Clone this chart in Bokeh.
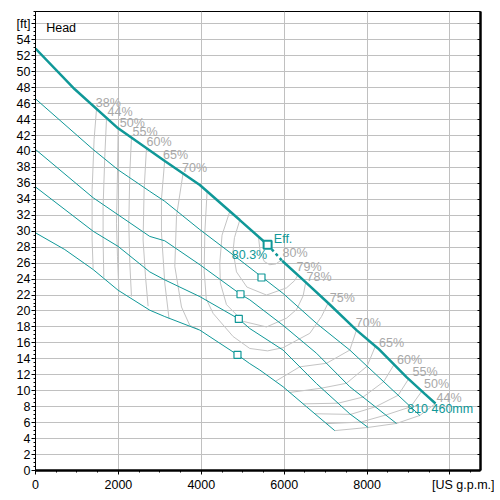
import numpy as np
from bokeh.plotting import figure
from bokeh.models import Range1d, FixedTicker, LinearAxis, Label, ColumnDataSource
from bokeh.embed import file_html
from bokeh.resources import INLINE
from bokeh.core.properties import value

# ---------------- data ----------------
main_q = [0, 948, 1993, 3119, 3965, 4929, 5600, 5950, 6457, 7060, 7744, 8266, 8951, 9392, 9650]
main_h = [52.9, 47.8, 42.9, 38.8, 35.8, 31.4, 28.3, 26.3, 23.9, 21.0, 17.6, 15.3, 11.7, 9.6, 8.4]

c1_q = [0, 1390, 1993, 2757, 3119, 3965, 4929, 5452, 5973, 6779, 7583, 9272]
c1_h = [46.6, 40.25, 37.7, 35.0, 33.75, 30.2, 26.4, 24.3, 22.2, 18.45, 15.1, 6.9]

c2_q = [0, 1390, 2757, 3119, 3965, 4946, 5170, 5973, 6779, 7583, 8709]
c2_h = [40.25, 34.2, 29.35, 28.8, 25.8, 22.1, 21.4, 18.2, 14.7, 10.5, 5.9]

c3_q = [0, 1390, 1993, 2757, 3119, 3965, 4905, 5170, 5973, 6779, 7583, 8024]
c3_h = [35.55, 30.0, 28.1, 24.9, 23.9, 21.8, 19.0, 17.8, 15.1, 10.9, 7.1, 5.4]

c4_q = [0, 707, 1390, 1993, 2757, 3119, 3965, 4873, 5170, 5411, 5973, 6537, 7220]
c4_h = [29.8, 27.7, 25.2, 22.6, 20.1, 19.3, 17.6, 14.5, 13.4, 12.6, 10.5, 8.0, 5.0]

bep_q = [5600, 5452, 4946, 4905, 4873]
bep_h = [28.3, 24.2, 22.1, 19.0, 14.5]

# efficiency iso-lines, left branches (low flow side)
left_levels = ["38%", "44%", "50%", "55%", "60%", "65%", "70%"]
left_q = [
    [1472, 1414, 1366, 1366, 1390],
    [1713, 1672, 1631, 1631, 1648],
    [1993, 1978, 1954, 1978, 2010],
    [2316, 2275, 2251, 2275, 2316],
    [2678, 2620, 2596, 2654, 2717],
    [3119, 3039, 3039, 3119, 3223],
    [3561, 3402, 3361, 3522, 3722, 3930],
]
left_h = [
    [45.3, 41.5, 35.2, 28.9, 25.3],
    [44.1, 39.4, 33.1, 28.9, 24.2],
    [42.9, 37.3, 31.0, 26.8, 22.6],
    [41.8, 37.3, 31.0, 26.0, 21.8],
    [40.5, 35.2, 28.9, 24.3, 20.6],
    [39.0, 34.0, 29.8, 23.5, 19.0],
    [37.3, 31.9, 25.6, 20.5, 18.2, 17.7],
]

# right branches: flow where each curve (main, c1, c2, c3, c4) reaches the level
right_levels = ["70%", "65%", "60%", "55%", "50%", "44%"]
right_cross_q = [
    [7744, 7583, 7020, 6376, 5790],
    [8200, 8000, 7500, 6900, 6135],
    [8650, 8400, 7900, 7300, 6457],
    [9000, 8750, 8200, 7600, 6738],
    [9320, 9050, 8450, 7850, 7020],
    [9650, 9272, 8709, 8024, 7220],
]

# closed loops around the best efficiency point
loop_levels = ["75%", "78%", "79%", "80%"]
loop_q = [
    [4140, 4085, 4070, 4120, 4285, 4767, 5170, 5600, 5973, 6618, 6900, 7060],
    [4688, 4500, 4446, 4460, 4607, 5009, 5573, 6056, 6300, 6457, 6520],
    [4929, 4800, 4767, 4849, 5100, 5573, 6056, 6250, 6330],
    [5380, 5420, 5520, 5652, 5800, 5935],
]
loop_h = [
    [35.0, 29.8, 25.0, 21.5, 19.7, 16.8, 15.3, 15.0, 15.4, 17.2, 19.3, 21.0],
    [32.5, 29.5, 26.0, 23.5, 20.8, 18.7, 18.0, 19.1, 20.2, 21.9, 23.6],
    [31.4, 29.2, 27.5, 24.9, 23.0, 22.0, 22.9, 23.8, 24.5],
    [29.3, 27.4, 26.2, 25.8, 25.9, 26.4],
]

# efficiency labels
lab_text = ["38%", "44%", "50%", "55%", "60%", "65%", "70%",
            "80%", "79%", "78%", "75%", "70%", "65%", "60%", "55%", "50%", "44%"]
lab_q = [1455, 1737, 2034, 2340, 2678, 3079, 3537,
         5959, 6297, 6538, 7100, 7727, 8290, 8724, 9095, 9375, 9674]
lab_h = [46.1, 44.9, 43.6, 42.4, 41.2, 39.6, 37.9,
         27.3, 25.5, 24.3, 21.6, 18.45, 16.0, 13.9, 12.3, 10.8, 9.1]

x_ticks = [0, 2000, 4000, 6000, 8000, 10000]
y_ticks = list(range(0, 57, 2))
x_unit = "[US g.p.m.]"
y_unit = "[ft]"

TEAL = "#109898"
GRID = "#c0c0c0"
CONT = "#c4c4c4"
LABG = "#a8a8a8"
FONT = "Liberation Sans"

# ---------------- figure ----------------
p = figure(frame_width=445, frame_height=459, width=494, height=494,
           x_range=Range1d(0, 10736), y_range=Range1d(0, 57.55),
           output_backend="svg", toolbar_location=None,
           min_border_left=35, min_border_right=14, min_border_top=11, min_border_bottom=24)
p.background_fill_color = "white"
p.border_fill_color = "white"
p.outline_line_color = "black"
p.outline_line_width = 1

p.xaxis.ticker = FixedTicker(ticks=x_ticks, minor_ticks=list(range(0, 10736, 500)))
p.yaxis.ticker = FixedTicker(ticks=y_ticks, minor_ticks=list(np.arange(0, 57.6, 0.5)))
p.xaxis.major_label_overrides = {10000: "\u00a0" * 9 + x_unit}
p.yaxis.major_label_overrides = {56: y_unit}
for ax in (p.xaxis[0], p.yaxis[0]):
    ax.axis_line_color = "black"
    ax.major_tick_line_color = "black"
    ax.minor_tick_line_color = "black"
    ax.major_tick_out = 4
    ax.major_tick_in = 0
    ax.minor_tick_out = 2
    ax.minor_tick_in = 0
    ax.major_label_text_font = FONT
    ax.major_label_text_font_size = "12.5px"
    ax.major_label_text_color = "black"
p.xaxis.axis_line_width = 2.5
p.xaxis.major_label_standoff = 3
p.yaxis.major_label_standoff = 1

p.xgrid.ticker = FixedTicker(ticks=[2000, 4000, 6000, 8000, 10000])
p.ygrid.ticker = FixedTicker(ticks=y_ticks[1:])
p.xgrid.grid_line_color = GRID
p.ygrid.grid_line_color = GRID

rax = LinearAxis(ticker=FixedTicker(ticks=y_ticks), major_tick_in=3, major_tick_out=0,
                 minor_tick_line_color=None, axis_line_width=2.5,
                 major_label_overrides={t: "" for t in y_ticks}, major_label_standoff=0)
p.add_layout(rax, "right")

# efficiency contours
for q, h in zip(left_q, left_h):
    p.line(q, h, line_color=CONT, line_width=1)
curves = [(main_q, main_h), (c1_q, c1_h), (c2_q, c2_h), (c3_q, c3_h), (c4_q, c4_h)]
for cq in right_cross_q:
    hh = [float(np.interp(qv, cv[0], cv[1])) for qv, cv in zip(cq, curves)]
    p.line(cq, hh, line_color=CONT, line_width=1)
for q, h in zip(loop_q, loop_h):
    p.line(q, h, line_color=CONT, line_width=1)

src = ColumnDataSource(dict(x=lab_q, y=lab_h, t=lab_text))
p.text(x="x", y="y", text="t", source=src, text_color=LABG, text_font=value(FONT),
       text_font_size="12.5px", text_align="left", text_baseline="middle")

# head curves
for q, h in curves[1:]:
    p.line(q, h, line_color=TEAL, line_width=1)

mq = np.array(main_q, dtype=float)
mh = np.array(main_h, dtype=float)
a = mq <= 5600
b = mq >= 5950
p.line(mq[a], mh[a], line_color=TEAL, line_width=2.5)
p.line(mq[b], mh[b], line_color=TEAL, line_width=2.5)
p.line([5600, 5950], [28.3, 26.3], line_color=TEAL, line_width=2.5, line_dash="3 3")

p.scatter(bep_q[1:], bep_h[1:], marker="square", size=7, line_color=TEAL,
          fill_color="white", line_width=1.2)
p.scatter(bep_q[:1], bep_h[:1], marker="square", size=8, line_color=TEAL,
          fill_color="white", line_width=2)

p.add_layout(Label(x=5749, y=29.05, text="Eff.", text_color=TEAL, text_font=FONT,
                   text_font_size="12.5px", text_baseline="middle"))
p.add_layout(Label(x=5590, y=27.05, text="80.3%", text_color=TEAL, text_font=FONT,
                   text_font_size="12.5px", text_baseline="middle", text_align="right"))
p.add_layout(Label(x=8967, y=7.74, text="810 460mm", text_color=TEAL, text_font=FONT,
                   text_font_size="12.5px", text_baseline="middle"))
p.add_layout(Label(x=258, y=55.5, text="Head", text_color="black", text_font=FONT,
                   text_font_size="12.5px", text_baseline="middle"))

open("out.html", "w").write(file_html(p, INLINE))
